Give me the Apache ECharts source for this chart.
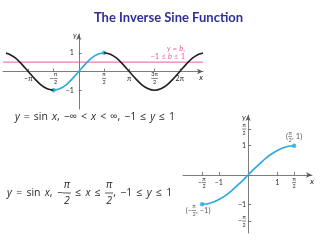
<!DOCTYPE html>
<html><head><meta charset="utf-8">
<script src="https://cdn.jsdelivr.net/npm/echarts@6/dist/echarts.min.js"></script>
<style>html,body{margin:0;padding:0;background:#fff}#c{width:320px;height:240px}</style>
</head><body><div id="c"></div>
<script>
// ---------- top chart (x measured in units of π) ----------
const topLeftX  = [-1.44,-1.375,-1.25,-1.125,-1,-0.875,-0.75,-0.625,-0.5];
const topLeftY  = [0.98,0.92,0.71,0.38,0,-0.38,-0.71,-0.92,-1];
const topMidX   = [-0.5,-0.375,-0.25,-0.125,0,0.125,0.25,0.375,0.5];
const topMidY   = [-1,-0.92,-0.71,-0.38,0,0.38,0.71,0.92,1];
const topRightX = [0.5,0.625,0.75,0.875,1,1.125,1.25,1.375,1.5,1.625,1.75,1.875,2,2.125,2.25,2.375,2.46];
const topRightY = [1,0.92,0.71,0.38,0,-0.38,-0.71,-0.92,-1,-0.92,-0.71,-0.38,0,0.38,0.71,0.92,0.99];
const topDotX = [-0.5, 0.5];
const topDotY = [-1, 1];
const lineBX = [-1.5, 2.46];
const lineBY = [0.5, 0.5];
const fadeX = [2.55, 4.14];
const fadeY = [0.5, 0.5];
const topXTicks  = [-1, -0.5, 0.5, 1, 1.5, 2];
const topXLabels = ['−π', '−[π/2]', '[π/2]', 'π', '[3π/2]', '2π'];
const topYTicks  = [-1, 1];
const topYLabels = ['−1', '1'];
// ---------- bottom chart (x in radians) ----------
const botX = [-1.571,-1.374,-1.178,-0.982,-0.785,-0.589,-0.393,-0.196,0,0.196,0.393,0.589,0.785,0.982,1.178,1.374,1.571];
const botY = [-1,-0.98,-0.92,-0.83,-0.71,-0.56,-0.38,-0.2,0,0.2,0.38,0.56,0.71,0.83,0.92,0.98,1];
const botXTicks  = [-1.571, -1, 1, 1.571];
const botXLabels = ['−[π/2]', '−1', '1', '[π/2]'];
const botYTicks  = [-1.571, -1, 1, 1.571];
const botYLabels = ['−[π/2]', '−1', '1', '[π/2]'];
const endX = [-1.571, 1.571];
const endY = [-1, 1];
const endLabels = ['(−[π/2], −1)', '([π/2], 1)'];
// ---------- texts ----------
const titleText = 'The Inverse Sine Function';
const formula1 = '*y* = sin *x*, −∞ < *x* < ∞, −1 ≤ *y* ≤ 1';
const formula2 = '*y* = sin *x*, −[π/2] ≤ *x* ≤ [π/2], −1 ≤ *y* ≤ 1';
const bLabel1 = '*y* = *b*,';
const bLabel2 = '−1 ≤ *b* ≤ 1';

const FONT = 'Lato';
const BLACK = '#231f20', BLUE = '#29a8e0', PINK = '#ee5aa6', AXIS = '#5a5a5a', TXT = '#2a2a2a';

function richStyles(c) {
  const tr = 'rgba(0,0,0,0)';
  const base = {fontFamily: c.font || FONT, fontSize: c.fs};
  const nb = {fontFamily: c.font || FONT, fontSize: c.nfs, color: c.color, fill: c.color, fontStyle: c.nStyle || 'normal', align: 'center', lineHeight: c.lh1};
  const bb = {fontSize: 1, height: c.bh, backgroundColor: c.color, align: 'center', lineHeight: c.lh2};
  const sp = Object.assign({}, base, {color: tr, fill: tr, lineHeight: Math.min(c.lh1, c.lh2)});
  if (c.sp) sp.width = c.sp;
  return {
    t:  Object.assign({}, base, {color: c.color, fill: c.color, lineHeight: c.lh2}),
    i:  Object.assign({}, base, {color: c.color, fill: c.color, fontStyle: 'italic', lineHeight: c.lh2}),
    h:  Object.assign({}, base, {color: tr, fill: tr, lineHeight: c.lh1}),
    hi: Object.assign({}, base, {color: tr, fill: tr, fontStyle: 'italic', lineHeight: c.lh1}),
    sp: sp,
    n1: Object.assign({}, nb, {width: c.w1}),
    n2: Object.assign({}, nb, {width: c.w2}),
    b1: Object.assign({}, bb, {width: c.w1}),
    b2: Object.assign({}, bb, {width: c.w2})
  };
}
// split a plain piece into word tokens and space tokens
function pieces(s, style) {
  return s.split(/( )/).filter(p => p !== '').map(p => p === ' ' ? '{sp| }' : '{' + style + '|' + p + '}').join('');
}
// builds a 3-line rich string: numerators / main line with fraction bars / denominators
function fracText(str) {
  const re = /\[([^\/\]]+)\/([^\]]+)\]|\*([^*]+)\*|([^\[*]+)/g;
  let l1 = '', l2 = '', l3 = '', m;
  while ((m = re.exec(str))) {
    if (m[1] !== undefined) {
      const k = m[1].length > 1 ? 2 : 1;
      l1 += '{n' + k + '|' + m[1] + '}'; l2 += '{b' + k + '| }'; l3 += '{n' + k + '|' + m[2] + '}';
    } else if (m[3] !== undefined) {
      l1 += pieces(m[3], 'hi'); l2 += pieces(m[3], 'i'); l3 += pieces(m[3], 'hi');
    } else {
      l1 += pieces(m[4], 'h'); l2 += pieces(m[4], 't'); l3 += pieces(m[4], 'h');
    }
  }
  return l1 + '\n' + l2 + '\n' + l3;
}
function lineText(str) {
  const re = /\*([^*]+)\*|([^*]+)/g;
  let s = '', m;
  while ((m = re.exec(str))) s += m[1] !== undefined ? pieces(m[1], 'i') : pieces(m[2], 't');
  return s;
}
function pick(ticks, labels) {
  return function (v) {
    const i = ticks.findIndex(t => Math.abs(t - v) < 1e-6);
    return i < 0 ? '' : fracText(labels[i]);
  };
}
const zip = (a, b) => a.map((v, i) => [v, b[i]]);

const axisRich = richStyles({fs: 7, nfs: 5.5, lh1: 4, lh2: 3.5, bh: 0.6, w1: 4, w2: 6.5, color: TXT});
const ptRich = richStyles({fs: 7.5, nfs: 5.5, lh1: 4, lh2: 3.5, bh: 0.6, w1: 4, w2: 6.5, color: TXT, sp: 2});
const f2Rich = richStyles({font: 'Open Sans', fs: 10.5, nfs: 10.5, lh1: 8, lh2: 8, bh: 0.8, w1: 8, w2: 10, color: TXT, nStyle: 'italic', sp: 4.3});
const f1Rich = richStyles({font: 'Open Sans', fs: 10.5, nfs: 10.5, lh1: 12, lh2: 12, bh: 1, w1: 7, w2: 10, color: TXT, sp: 4});
const bRich = richStyles({fs: 7.5, nfs: 7.5, lh1: 9, lh2: 9, bh: 1, w1: 5, w2: 8, color: PINK, sp: 2.2});

// axis placed through the zero of the other axis by an offset (grid geometry below)
function axisCommon(ticks, labels, margin, offset) {
  return {
    offset: offset,
    axisLine: {onZero: false, lineStyle: {color: AXIS, width: 0.8}, symbol: ['none', 'arrow'], symbolSize: [4, 6]},
    axisTick: {show: true, customValues: ticks, inside: true, length: 3, lineStyle: {color: AXIS, width: 0.8}},
    axisLabel: {customValues: ticks, formatter: pick(ticks, labels), rich: axisRich, margin: margin, hideOverlap: false},
    splitLine: {show: false}
  };
}

const chart = echarts.init(document.getElementById('c'), null, {renderer: 'canvas'});
const option = {
  animation: false,
  backgroundColor: '#fff',
  grid: [
    {left: 3, top: 34, width: 200, height: 75, containLabel: false, outerBoundsMode: 'none'},
    {left: 183, top: 115, width: 129, height: 118, containLabel: false, outerBoundsMode: 'none'}
  ],
  xAxis: [
    Object.assign({gridIndex: 0, type: 'value', position: 'bottom', min: -1.5, max: 2.46}, axisCommon(topXTicks, topXLabels, 1, -37.5)),
    Object.assign({gridIndex: 1, type: 'value', position: 'bottom', min: -2.22, max: 2.18}, axisCommon(botXTicks, botXLabels, 2, -58))
  ],
  yAxis: [
    Object.assign({gridIndex: 0, type: 'value', position: 'left', min: -2, max: 2}, axisCommon(topYTicks, topYLabels, 5, -75.75)),
    Object.assign({gridIndex: 1, type: 'value', position: 'left', min: -1.98, max: 2.05}, axisCommon(botYTicks, botYLabels, 2, -65.1))
  ],
  series: [
    {type: 'line', xAxisIndex: 0, yAxisIndex: 0, data: zip(fadeX, fadeY), showSymbol: false, clip: false, silent: true,
     lineStyle: {width: 1.4, color: {type: 'linear', x: 0, y: 0, x2: 1, y2: 0,
       colorStops: [{offset: 0, color: 'rgba(200,200,200,0.1)'}, {offset: 0.3, color: 'rgba(200,200,200,0.8)'}, {offset: 0.7, color: 'rgba(200,200,200,0.8)'}, {offset: 1, color: 'rgba(200,200,200,0.05)'}]}}},
    {type: 'line', xAxisIndex: 0, yAxisIndex: 0, data: zip(lineBX, lineBY), showSymbol: false, lineStyle: {width: 1, color: PINK}},
    {type: 'line', xAxisIndex: 0, yAxisIndex: 0, data: zip(topLeftX, topLeftY), showSymbol: false, smooth: 0.3, lineStyle: {width: 1.6, color: BLACK}},
    {type: 'line', xAxisIndex: 0, yAxisIndex: 0, data: zip(topRightX, topRightY), showSymbol: false, smooth: 0.3, lineStyle: {width: 1.6, color: BLACK}},
    {type: 'line', xAxisIndex: 0, yAxisIndex: 0, data: zip(topMidX, topMidY), showSymbol: false, smooth: 0.3, lineStyle: {width: 1.6, color: BLUE}},
    {type: 'scatter', xAxisIndex: 0, yAxisIndex: 0, data: zip(topDotX, topDotY), symbolSize: 4.5, itemStyle: {color: BLUE}},
    {type: 'line', xAxisIndex: 1, yAxisIndex: 1, data: zip(botX, botY), showSymbol: false, smooth: 0.3, lineStyle: {width: 1.6, color: BLUE}},
    {type: 'scatter', xAxisIndex: 1, yAxisIndex: 1, symbolSize: 4.5, itemStyle: {color: BLUE},
     data: zip(endX, endY).map((p, i) => ({value: p, label: {show: true, position: 'inside', offset: i === 0 ? [-4, 6] : [0, -9],
       formatter: fracText(endLabels[i]), rich: ptRich}}))}
  ],
  graphic: [
    {type: 'text', x: 168.5, y: 17.5, style: {text: titleText, fill: '#2e3192', font: 'bold 13px Lato', align: 'center', verticalAlign: 'middle'}},
    {type: 'text', x: 15, y: 116.7, style: {text: lineText(formula1), rich: f1Rich, align: 'left', verticalAlign: 'middle'}},
    {type: 'text', x: 7, y: 193, style: {text: fracText(formula2), rich: f2Rich, align: 'left', verticalAlign: 'middle'}},
    {type: 'text', x: 185, y: 48.5, style: {text: lineText(bLabel1), rich: bRich, align: 'right', verticalAlign: 'middle'}},
    {type: 'text', x: 185, y: 56.5, style: {text: lineText(bLabel2), rich: bRich, align: 'right', verticalAlign: 'middle'}},
    {type: 'text', x: 75, y: 35, style: {text: 'y', fill: TXT, font: 'italic 8px Lato', align: 'center', verticalAlign: 'middle'}},
    {type: 'text', x: 201, y: 77, style: {text: 'x', fill: TXT, font: 'italic 8px Lato', align: 'center', verticalAlign: 'middle'}},
    {type: 'text', x: 244, y: 117, style: {text: 'y', fill: TXT, font: 'italic 8px Lato', align: 'center', verticalAlign: 'middle'}},
    {type: 'text', x: 312, y: 181, style: {text: 'x', fill: TXT, font: 'italic 8px Lato', align: 'center', verticalAlign: 'middle'}}
  ]
};
chart.setOption(option);
</script>
</body></html>
